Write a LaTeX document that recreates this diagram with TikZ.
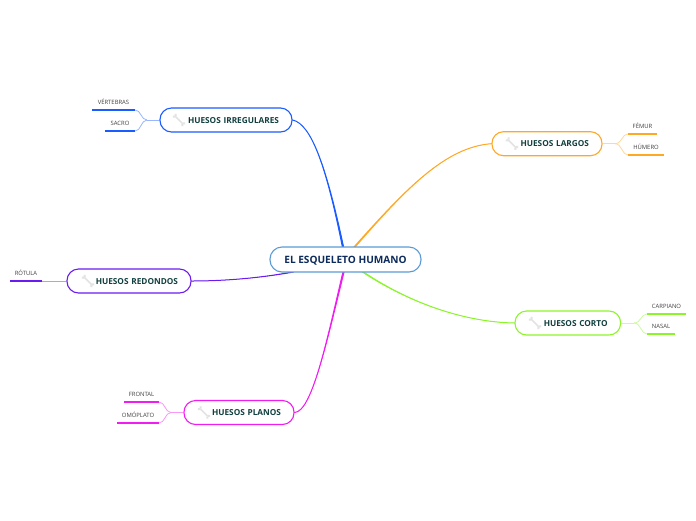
\documentclass[tikz,border=0pt]{standalone}
\usepackage{fontspec}
\setmainfont{Open Sans}
\usetikzlibrary{calc}
\definecolor{cblue}{HTML}{1A5CFF}
\definecolor{corange}{HTML}{FFA824}
\definecolor{cgreen}{HTML}{8CF52A}
\definecolor{cpurple}{HTML}{6A1CF0}
\definecolor{cmag}{HTML}{F01CF0}
\definecolor{ctext}{HTML}{123F3F}
\definecolor{cnavy}{HTML}{0D2A5C}
\definecolor{ccenter}{HTML}{5B9BD5}
\tikzset{
  x=1pt,y=-1pt,
  topicbox/.style={draw=#1,line width=1.1pt,rounded corners=11.5pt,fill=white,minimum height=24pt,inner ysep=0pt,inner xsep=13pt,align=right,text=ctext,text height=6pt,text depth=0pt,font=\fontsize{8.25}{9}\selectfont\bfseries},
  rootbox/.style={draw=ccenter,line width=1.1pt,rounded corners=12pt,fill=white,minimum height=25pt,minimum width=151pt,inner sep=0pt,text=cnavy,text height=7.3pt,text depth=0pt,font=\fontsize{10.1}{11}\selectfont\bfseries},
  leaf/.style={inner sep=0pt,minimum height=15.5pt,anchor=south,text=black!75,text height=4pt,text depth=0pt,font=\fontsize{5.9}{6}\selectfont},
  under/.style={line width=1.6pt,draw=#1},
  fork/.style={line width=.8pt,draw=#1!45!white},
  bone/.pic={
    \begin{scope}[rotate=#1,line cap=round]
      \draw[line width=1.6pt,draw=black!11] (-5,0) -- (5,0);
      \fill[black!11] (-6,-1.3) circle (1.5) (-6,1.3) circle (1.5) (6,-1.3) circle (1.5) (6,1.3) circle (1.5);
    \end{scope}
  }
}
% tapered trunk: colour, topic anchor, control 1, control 2, root end
\newcommand\taperline[5]{%
  \fill[#1,draw=#1,line width=1pt,line join=round] (#2) .. controls (#3) and (#4) .. ($(#5)+(.6,0)$) -- ($(#5)+(-.6,0)$) .. controls (#4) and (#3) .. (#2) -- cycle;%
}
\begin{document}
\begin{tikzpicture}
\useasboundingbox (0,0) rectangle (696,520);
\coordinate (rI) at (343,247);
\coordinate (rL) at (354.5,247);
\coordinate (rC) at (363,272);
\coordinate (rP) at (343.5,272);
\coordinate (rR) at (293,272);

\node[topicbox=cblue,text width=106pt] (irr) at (226,120) {HUESOS IRREGULARES};
\node[topicbox=corange,text width=84pt] (lar) at (547,143.7) {HUESOS LARGOS};
\node[topicbox=cgreen,text width=79.6pt] (cor) at (567.8,323) {HUESOS CORTO};
\node[topicbox=cmag,text width=84pt] (pla) at (239,412.5) {HUESOS PLANOS};
\node[topicbox=cpurple,text width=98pt] (red) at (129,281) {HUESOS REDONDOS};

\taperline{cblue}{irr.east}{312,124}{327,170}{rI}
\taperline{corange}{lar.west}{445,147}{405,190}{rL}
\taperline{cgreen}{cor.west}{460,322}{405,300}{rC}
\taperline{cmag}{pla.east}{312,412}{327,340}{rP}
\taperline{cpurple}{red.east}{225,281}{260,278}{rR}

\node[rootbox] (root) at (345.5,259.5) {EL ESQUELETO HUMANO};

\pic at (179,120) {bone=-45};
\pic at (512,143.7) {bone=-45};
\pic at (535,323) {bone=-45};
\pic at (204,412.5) {bone=-45};
\pic at (88,281) {bone=-45};

\node[leaf,minimum width=43pt] (ver) at (113.5,110) {VÉRTEBRAS};
\node[leaf,minimum width=30pt] (sac) at (120,131) {SACRO};
\node[leaf,minimum width=29pt] (fem) at (642.5,134) {FÉMUR};
\node[leaf,minimum width=36pt] (hum) at (646,155) {HÚMERO};
\node[leaf,minimum width=39pt] (car) at (666.5,314) {CARPIANO};
\node[leaf,minimum width=28pt] (nas) at (661,334) {NASAL};
\node[leaf,minimum width=35pt] (fro) at (141.5,402) {FRONTAL};
\node[leaf,minimum width=42pt] (omo) at (138,423) {OMÓPLATO};
\node[leaf,minimum width=32pt] (rot) at (26,281) {RÓTULA};

\draw[under=cblue] (ver.south west) -- (ver.south east);
\draw[under=cblue] (sac.south west) -- (sac.south east);
\draw[under=corange] (fem.south west) -- (fem.south east);
\draw[under=corange] (hum.south west) -- (hum.south east);
\draw[under=cgreen] (car.south west) -- (car.south east);
\draw[under=cgreen] (nas.south west) -- (nas.south east);
\draw[under=cmag] (fro.south west) -- (fro.south east);
\draw[under=cmag] (omo.south west) -- (omo.south east);
\draw[under=cpurple] (rot.south west) -- (rot.south east);

\coordinate (jI) at (147,120);
\coordinate (jL) at (615,143.7);
\coordinate (jC) at (634,323);
\coordinate (jP) at (171,412.5);
\draw[fork=cblue] (irr.west) -- (jI);
\draw[fork=cblue] (jI) .. controls (141,120) and (141,110) .. (ver.south east);
\draw[fork=cblue] (jI) .. controls (141,120) and (141,131) .. (sac.south east);
\draw[fork=corange] (lar.east) -- (jL);
\draw[fork=corange] (jL) .. controls (622,143.7) and (622,134) .. (fem.south west);
\draw[fork=corange] (jL) .. controls (622,143.7) and (622,155) .. (hum.south west);
\draw[fork=cgreen] (cor.east) -- (jC);
\draw[fork=cgreen] (jC) .. controls (641,323) and (641,314) .. (car.south west);
\draw[fork=cgreen] (jC) .. controls (641,323) and (641,334) .. (nas.south west);
\draw[fork=cmag] (pla.west) -- (jP);
\draw[fork=cmag] (jP) .. controls (165,412.5) and (165,402) .. (fro.south east);
\draw[fork=cmag] (jP) .. controls (165,412.5) and (165,423) .. (omo.south east);
\draw[fork=cpurple] (red.west) -- (rot.south east);
\end{tikzpicture}
\end{document}
